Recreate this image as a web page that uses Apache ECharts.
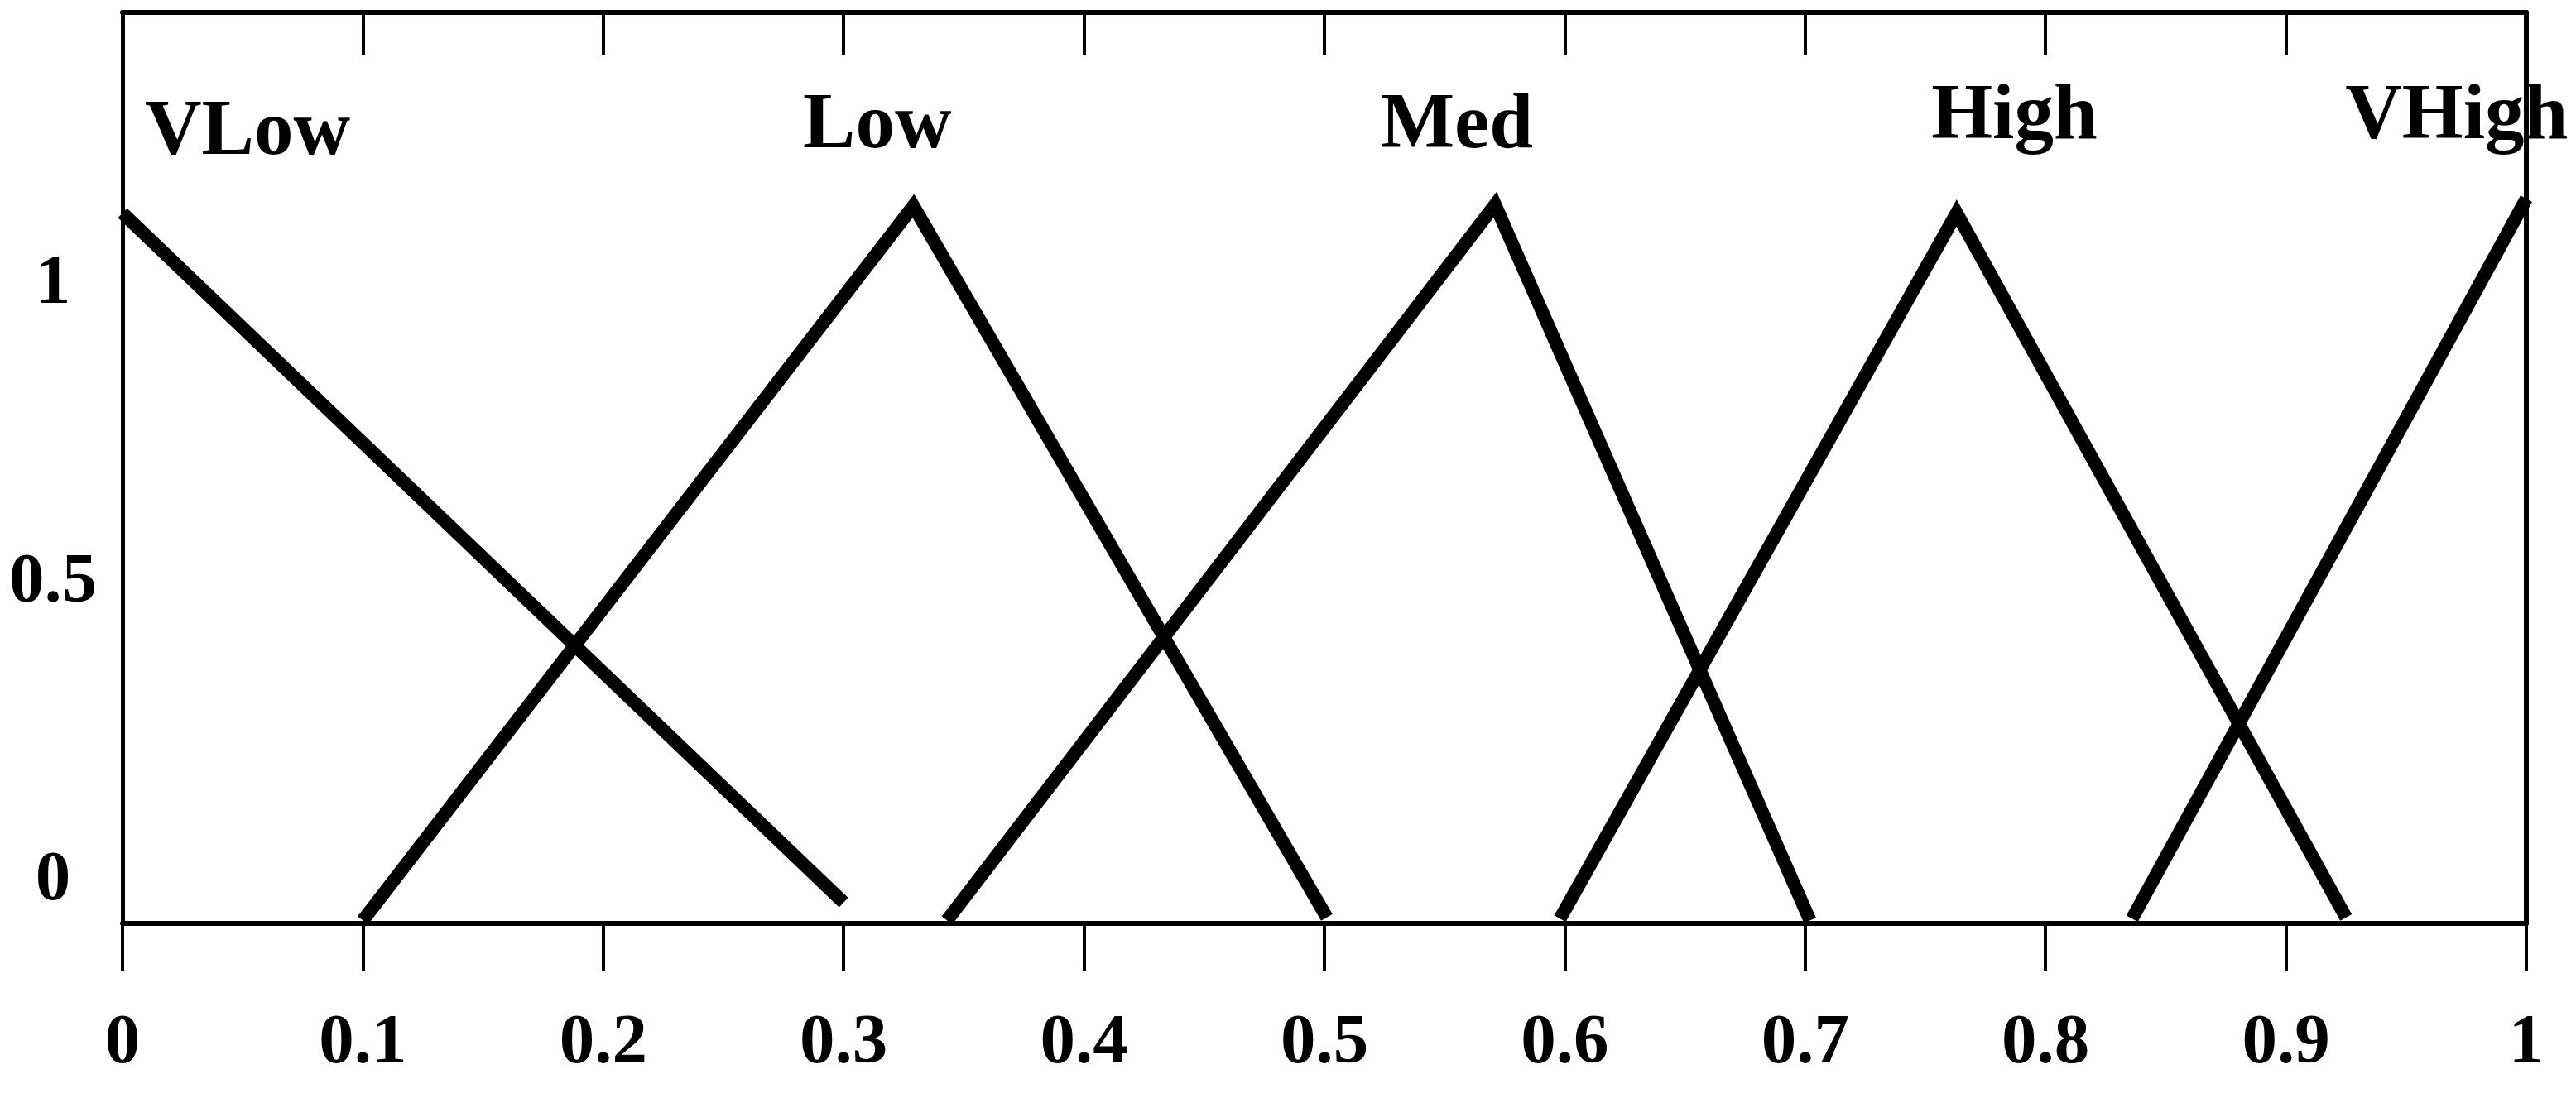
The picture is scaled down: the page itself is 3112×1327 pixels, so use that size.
<!DOCTYPE html>
<html>
<head>
<meta charset="utf-8">
<script src="https://cdn.jsdelivr.net/npm/echarts@6/dist/echarts.min.js"></script>
<style>
html,body{margin:0;padding:0;background:#fff;}
#chart{width:3112px;height:1327px;}
</style>
</head>
<body>
<div id="chart"></div>
<script>
const setNames = ['VLow', 'Low', 'Med', 'High', 'VHigh'];
const vlowX = [0, 0.3];
const vlowY = [1.12, -0.035];
const lowX = [0.1, 0.329, 0.501];
const lowY = [-0.065, 1.132, -0.06];
const medX = [0.343, 0.571, 0.702];
const medY = [-0.065, 1.134, -0.065];
const highX = [0.598, 0.763, 0.925];
const highY = [-0.062, 1.12, -0.06];
const vhighX = [0.836, 1.0];
const vhighY = [-0.062, 1.144];
const nameX = [0.052, 0.314, 0.555, 0.787, 0.971];
const nameY = [1.253, 1.264, 1.264, 1.280, 1.280];
const yTickLabels = [0, 0.5, 1];

function pairs(xs, ys) { return xs.map((x, i) => [x, ys[i]]); }

const FONT = 'Liberation Serif';
const lineSeries = [[vlowX, vlowY], [lowX, lowY], [medX, medY], [highX, highY], [vhighX, vhighY]]
  .map((p, i) => ({
    type: 'line',
    name: setNames[i],
    data: pairs(p[0], p[1]),
    symbol: 'none',
    clip: false,
    lineStyle: { color: '#000', width: 16, join: 'miter', cap: 'butt' },
    z: 3
  }));

const chart = echarts.init(document.getElementById('chart'));
chart.setOption({
  backgroundColor: '#fff',
  animation: false,
  grid: { left: 148, right: 60, top: 15, bottom: 211, show: false },
  xAxis: [
    {
      type: 'value', position: 'bottom', min: 0, max: 1, interval: 0.1,
      axisLine: { show: true, onZero: false, lineStyle: { color: '#000', width: 6 } },
      axisTick: { show: true, inside: false, length: 57, lineStyle: { color: '#000', width: 4 } },
      axisLabel: { show: true, margin: 104, color: '#000', fontFamily: FONT, fontWeight: 'bold', fontSize: 85 },
      splitLine: { show: false }
    },
    {
      type: 'value', position: 'top', min: 0, max: 1, interval: 0.1,
      axisLine: { show: true, onZero: false, lineStyle: { color: '#000', width: 6 } },
      axisTick: { show: true, inside: true, length: 52, lineStyle: { color: '#000', width: 4 } },
      axisLabel: { show: false },
      splitLine: { show: false }
    }
  ],
  yAxis: [
    {
      type: 'value', position: 'left', min: -0.07, max: 1.456,
      axisLine: { show: true, onZero: false, lineStyle: { color: '#000', width: 5 } },
      axisTick: { show: false },
      axisLabel: {
        show: true, customValues: yTickLabels, align: 'center', margin: 84,
        padding: [16, 0, 0, 0],
        color: '#000', fontFamily: FONT, fontWeight: 'bold', fontSize: 85
      },
      splitLine: { show: false }
    },
    {
      type: 'value', position: 'right', min: -0.07, max: 1.456,
      axisLine: { show: true, onZero: false, lineStyle: { color: '#000', width: 6 } },
      axisTick: { show: false },
      axisLabel: { show: false },
      splitLine: { show: false }
    }
  ],
  series: lineSeries.concat([{
    type: 'scatter',
    symbolSize: 0,
    silent: true,
    clip: false,
    data: nameX.map((x, i) => ({ value: [x, nameY[i]], name: setNames[i] })),
    label: {
      show: true, position: 'inside', formatter: '{b}',
      color: '#000', textBorderWidth: 0, opacity: 1,
      fontFamily: FONT, fontWeight: 'bold', fontSize: 95
    },
    z: 4
  }])
});
</script>
</body>
</html>
